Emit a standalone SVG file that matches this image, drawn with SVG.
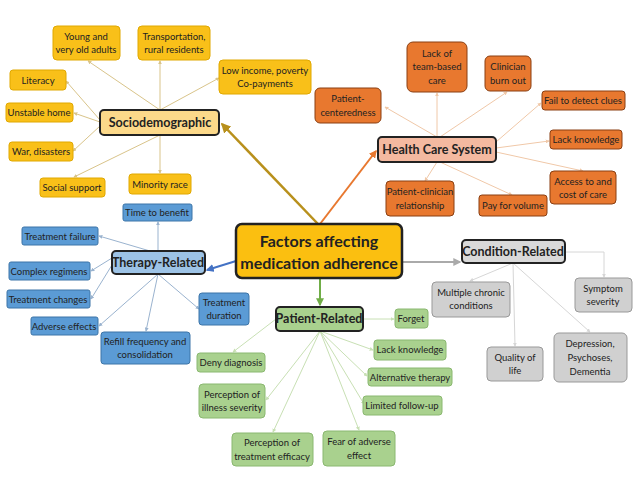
<svg xmlns="http://www.w3.org/2000/svg" width="638" height="478" viewBox="0 0 638 478">
<style>
text{font-family:Lato,"Liberation Sans",sans-serif;font-size:9.5px;text-anchor:middle;fill:#222}
.h{font-weight:bold;font-size:12.5px}
.y{fill:#f9c019;stroke:#e0a800;stroke-width:1}
.o{fill:#e8782f;stroke:#8a3f12;stroke-width:1}
.b{fill:#5b9bd5;stroke:#3d75a8;stroke-width:1}
.g{fill:#d0d0d0;stroke:#999;stroke-width:1}
.gr{fill:#a9d18e;stroke:#8ab870;stroke-width:1}
.hub{stroke:#222;stroke-width:2}
.c line{fill:none}
</style>
<defs>
<marker id="a" viewBox="0 0 6 6" refX="5" refY="3" markerWidth="4" markerHeight="4" orient="auto"><path d="M0,0L6,3L0,6z" fill="context-stroke"/></marker>
</defs>
<rect width="638" height="478" fill="#fff"/>
<g class="c" stroke-width="1">
<g stroke="#d9c48a">
<line x1="160" y1="110" x2="88" y2="61" marker-end="url(#a)"/>
<line x1="160" y1="110" x2="160" y2="61" marker-end="url(#a)"/>
<line x1="160" y1="110" x2="219" y2="78" marker-end="url(#a)"/>
<line x1="100" y1="120" x2="66" y2="81" marker-end="url(#a)"/>
<line x1="100" y1="122" x2="74" y2="113" marker-end="url(#a)"/>
<line x1="100" y1="126" x2="73" y2="151" marker-end="url(#a)"/>
<line x1="160" y1="135" x2="74" y2="177" marker-end="url(#a)"/>
<line x1="160" y1="135" x2="160" y2="173" marker-end="url(#a)"/>
</g>
<g stroke="#f0c8a8">
<line x1="437" y1="137" x2="385" y2="107" marker-end="url(#a)"/>
<line x1="437" y1="137" x2="437" y2="93" marker-end="url(#a)"/>
<line x1="440" y1="137" x2="507" y2="92" marker-end="url(#a)"/>
<line x1="496" y1="142" x2="541" y2="103" marker-end="url(#a)"/>
<line x1="496" y1="148" x2="549" y2="141" marker-end="url(#a)"/>
<line x1="496" y1="152" x2="583" y2="171" marker-end="url(#a)"/>
<line x1="437" y1="162" x2="425" y2="181" marker-end="url(#a)"/>
<line x1="440" y1="162" x2="512" y2="195" marker-end="url(#a)"/>
</g>
<g stroke="#9ab3cf">
<line x1="158" y1="251" x2="158" y2="222" marker-end="url(#a)"/>
<line x1="150" y1="251" x2="99" y2="236" marker-end="url(#a)"/>
<line x1="112" y1="258" x2="91" y2="271" marker-end="url(#a)"/>
<line x1="112" y1="265" x2="91" y2="299" marker-end="url(#a)"/>
<line x1="158" y1="274" x2="99" y2="326" marker-end="url(#a)"/>
<line x1="158" y1="274" x2="146" y2="331" marker-end="url(#a)"/>
<line x1="158" y1="274" x2="199" y2="309" marker-end="url(#a)"/>
</g>
<g stroke="#d6d6d6">
<line x1="513" y1="263" x2="470" y2="281" marker-end="url(#a)"/>
<line x1="565" y1="252" x2="604" y2="252" />
<line x1="604" y1="252" x2="604" y2="277" marker-end="url(#a)"/>
<line x1="513" y1="263" x2="515" y2="346" marker-end="url(#a)"/>
<line x1="513" y1="263" x2="590" y2="332" marker-end="url(#a)"/>
</g>
<g stroke="#c8e0b4">
<line x1="363" y1="319" x2="394" y2="319" marker-end="url(#a)"/>
<line x1="320" y1="331" x2="373" y2="350" marker-end="url(#a)"/>
<line x1="320" y1="331" x2="367" y2="376" marker-end="url(#a)"/>
<line x1="320" y1="331" x2="364" y2="404" marker-end="url(#a)"/>
<line x1="276" y1="319" x2="233" y2="352" marker-end="url(#a)"/>
<line x1="320" y1="331" x2="266" y2="400" marker-end="url(#a)"/>
<line x1="320" y1="331" x2="273" y2="432" marker-end="url(#a)"/>
<line x1="320" y1="331" x2="359" y2="430" marker-end="url(#a)"/>
</g>
<line x1="318" y1="224" x2="222" y2="124" stroke="#b8901c" stroke-width="2.5" marker-end="url(#a)"/>
<line x1="320" y1="224" x2="376" y2="151" stroke="#e8782f" stroke-width="2" marker-end="url(#a)"/>
<line x1="236" y1="261" x2="207" y2="270" stroke="#4472c4" stroke-width="2" marker-end="url(#a)"/>
<line x1="402" y1="262" x2="460" y2="262" stroke="#aaaaaa" stroke-width="2" marker-end="url(#a)"/>
<line x1="320" y1="278" x2="320" y2="305" stroke="#70ad47" stroke-width="2" marker-end="url(#a)"/>
</g>
<g id="central"><rect x="236" y="224" width="166" height="54" rx="6" fill="#fbbf10" stroke="#222" stroke-width="2.5"/><text class="h" x="319" y="247" style="font-size:16px">Factors affecting</text><text class="h" x="319" y="269" style="font-size:16px">medication adherence</text></g>
<g id="sociodemographic"><rect x="100" y="110" width="119" height="25" rx="4" fill="#fcd98a" class="hub"/><text class="h" x="160" y="127">Sociodemographic</text></g>
<g id="young"><rect class="y" x="53" y="26" width="67" height="34" rx="4"/><text x="86" y="40">Young and</text><text x="86" y="53">very old adults</text></g>
<g id="transport"><rect class="y" x="138" y="26" width="72" height="34" rx="4"/><text x="174" y="40">Transportation,</text><text x="174" y="53">rural residents</text></g>
<g id="income"><rect class="y" x="219" y="60" width="92" height="34" rx="4"/><text x="265" y="74">Low income, poverty</text><text x="265" y="87">Co-payments</text></g>
<g id="literacy"><rect class="y" x="10" y="70" width="56" height="20" rx="3"/><text x="38" y="84">Literacy</text></g>
<g id="unstable"><rect class="y" x="6" y="103" width="67" height="19" rx="3"/><text x="39" y="116">Unstable home</text></g>
<g id="war"><rect class="y" x="9" y="142" width="64" height="19" rx="3"/><text x="41" y="155">War, disasters</text></g>
<g id="social"><rect class="y" x="40" y="178" width="65" height="19" rx="3"/><text x="72" y="191">Social support</text></g>
<g id="minority"><rect class="y" x="129" y="174" width="62" height="20" rx="3"/><text x="160" y="188">Minority race</text></g>
<g id="healthcare"><rect x="378" y="137" width="118" height="25" rx="4" fill="#f4b9a0" class="hub"/><text class="h" x="437" y="154">Health Care System</text></g>
<g id="centeredness"><rect class="o" x="315" y="88" width="66" height="35" rx="5"/><text x="348" y="102">Patient-</text><text x="348" y="116">centeredness</text></g>
<g id="team"><rect class="o" x="407" y="42" width="60" height="50" rx="6"/><text x="437" y="57">Lack of</text><text x="437" y="70">team-based</text><text x="437" y="84">care</text></g>
<g id="burnout"><rect class="o" x="485" y="56" width="46" height="35" rx="5"/><text x="508" y="70">Clinician</text><text x="508" y="84">burn out</text></g>
<g id="clues"><rect class="o" x="542" y="91" width="83" height="19" rx="3"/><text x="583" y="104">Fail to detect clues</text></g>
<g id="knowledge1"><rect class="o" x="550" y="130" width="72" height="19" rx="3"/><text x="586" y="143">Lack knowledge</text></g>
<g id="access"><rect class="o" x="550" y="171" width="66" height="33" rx="4"/><text x="583" y="185">Access to and</text><text x="583" y="198">cost of care</text></g>
<g id="relationship"><rect class="o" x="386" y="181" width="68" height="35" rx="4"/><text x="420" y="195">Patient-clinician</text><text x="420" y="209">relationship</text></g>
<g id="volume"><rect class="o" x="479" y="195" width="68" height="21" rx="3"/><text x="513" y="209">Pay for volume</text></g>
<g id="therapy"><rect x="112" y="251" width="93" height="23" rx="4" fill="#9dc3e6" class="hub"/><text class="h" x="158" y="267">Therapy-Related</text></g>
<g id="time"><rect class="b" x="123" y="204" width="69" height="17" rx="2"/><text x="157" y="216">Time to benefit</text></g>
<g id="failure"><rect class="b" x="22" y="227" width="76" height="18" rx="2"/><text x="60" y="240">Treatment failure</text></g>
<g id="complex"><rect class="b" x="9" y="262" width="81" height="18" rx="2"/><text x="49" y="275">Complex regimens</text></g>
<g id="changes"><rect class="b" x="7" y="290" width="83" height="18" rx="2"/><text x="48" y="303">Treatment changes</text></g>
<g id="adverse"><rect class="b" x="31" y="317" width="67" height="18" rx="2"/><text x="64" y="330">Adverse effects</text></g>
<g id="refill"><rect class="b" x="101" y="332" width="89" height="32" rx="3"/><text x="145" y="345">Refill frequency and</text><text x="145" y="358">consolidation</text></g>
<g id="duration"><rect class="b" x="199" y="293" width="50" height="32" rx="3"/><text x="224" y="306">Treatment</text><text x="224" y="319">duration</text></g>
<g id="condition"><rect x="462" y="240" width="103" height="23" rx="4" fill="#d9d9d9" class="hub"/><text class="h" x="513" y="256">Condition-Related</text></g>
<g id="chronic"><rect class="g" x="432" y="282" width="78" height="35" rx="4"/><text x="471" y="296">Multiple chronic</text><text x="471" y="309">conditions</text></g>
<g id="symptom"><rect class="g" x="575" y="278" width="57" height="34" rx="4"/><text x="603" y="292">Symptom</text><text x="603" y="305">severity</text></g>
<g id="quality"><rect class="g" x="487" y="347" width="56" height="34" rx="4"/><text x="515" y="361">Quality of</text><text x="515" y="374">life</text></g>
<g id="depression"><rect class="g" x="554" y="333" width="73" height="49" rx="5"/><text x="590" y="347">Depression,</text><text x="590" y="361">Psychoses,</text><text x="590" y="375">Dementia</text></g>
<g id="patient"><rect x="276" y="307" width="87" height="24" rx="4" fill="#a9d18e" class="hub"/><text class="h" x="319" y="323">Patient-Related</text></g>
<g id="forget"><rect class="gr" x="395" y="309" width="33" height="19" rx="3"/><text x="411" y="322">Forget</text></g>
<g id="knowledge2"><rect class="gr" x="374" y="340" width="72" height="20" rx="3"/><text x="410" y="353">Lack knowledge</text></g>
<g id="alternative"><rect class="gr" x="368" y="368" width="84" height="18" rx="3"/><text x="410" y="381">Alternative therapy</text></g>
<g id="followup"><rect class="gr" x="363" y="396" width="79" height="19" rx="3"/><text x="402" y="409">Limited follow-up</text></g>
<g id="deny"><rect class="gr" x="197" y="353" width="68" height="19" rx="3"/><text x="231" y="366">Deny diagnosis</text></g>
<g id="illness"><rect class="gr" x="199" y="384" width="66" height="34" rx="4"/><text x="232" y="398">Perception of</text><text x="232" y="411">illness severity</text></g>
<g id="efficacy"><rect class="gr" x="232" y="433" width="81" height="33" rx="4"/><text x="272" y="446">Perception of</text><text x="272" y="460">treatment efficacy</text></g>
<g id="fear"><rect class="gr" x="323" y="431" width="72" height="35" rx="4"/><text x="359" y="445">Fear of adverse</text><text x="359" y="459">effect</text></g>
</svg>
